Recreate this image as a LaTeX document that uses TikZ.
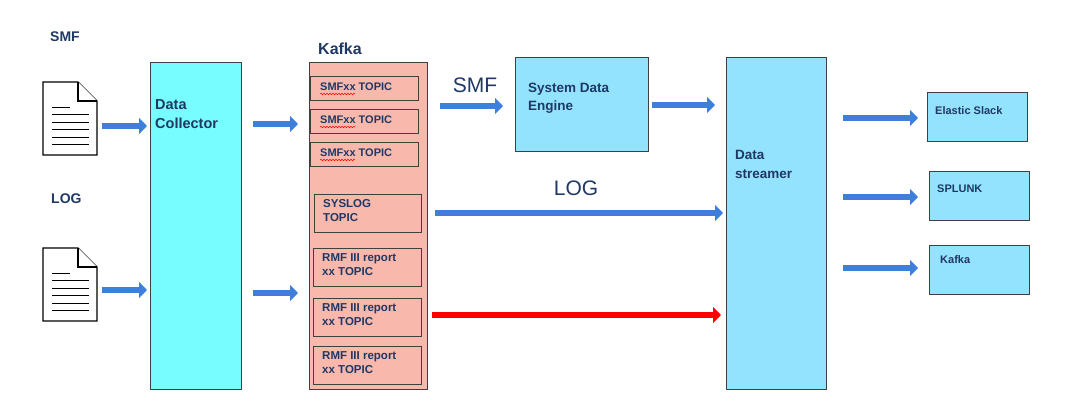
\documentclass[tikz,border=0pt]{standalone}
\usepackage{fontspec}
\setmainfont{Liberation Sans}
\usetikzlibrary{arrows.meta,decorations.pathmorphing}
\definecolor{navy}{HTML}{1F3864}
\definecolor{cyanb}{HTML}{77FCFF}
\definecolor{lblue}{HTML}{93E3FE}
\definecolor{salmon}{HTML}{F8B8AC}
\definecolor{arrb}{HTML}{3F7FDC}
\begin{document}
\begin{tikzpicture}[x=1pt,y=-1pt,
  box/.style={draw=black!75,line width=1pt,anchor=north west,inner sep=0pt},
  txt/.style={anchor=north west,text=navy,font=\bfseries,align=left,inner sep=0pt},
  fat/.style={draw=arrb,line width=6pt,-{Triangle[length=8pt,width=16pt]}},
  red/.style={fat,draw=red},
  doc/.style={draw=black,line width=1.2pt,fill=white}]
\useasboundingbox (0,0) rectangle (1080,406);
% labels
\node[txt,font=\bfseries\fontsize{14}{16}\selectfont] (lsmf) at (50,32) {SMF};
\node[txt,font=\bfseries\fontsize{14}{16}\selectfont] (llog) at (51,194) {LOG};
% documents
\foreach \y/\n in {82/d1,248/d2}{
  \draw[doc] (43,\y) -- (78,\y) -- (97,\y+19) -- (97,\y+73) -- (43,\y+73) -- cycle;
  \draw[doc] (78,\y) -- (78,\y+19) -- (97,\y+19);
  \draw[line width=0.9pt] (52,\y+25) -- (70,\y+25);
  \foreach \k in {1,...,5} \draw[line width=0.9pt] (52,\y+25+\k*7.5) -- (89,\y+25+\k*7.5);
  \coordinate (\n) at (97,\y+44);
}
% Data collector
\node[box,fill=cyanb,minimum width=91pt,minimum height=327pt] (dc) at (150,62) {};
\node[txt,font=\bfseries\fontsize{14.5}{19}\selectfont] (dct) at (155,99) {Data\\Collector};
\coordinate (a1s) at (102,126); \coordinate (a1e) at (147,126);
\coordinate (a2s) at (102,290); \coordinate (a2e) at (147,290);
\draw[fat] (a1s) -- (a1e);
\draw[fat] (a2s) -- (a2e);
\coordinate (b1s) at (253,124); \coordinate (b1e) at (298,124);
\coordinate (b2s) at (253,293); \coordinate (b2e) at (298,293);
\draw[fat] (b1s) -- (b1e);
\draw[fat] (b2s) -- (b2e);
% Kafka
\node[txt,font=\bfseries\fontsize{16}{18}\selectfont] (kt) at (318,43) {Kafka};
\node[box,fill=salmon,minimum width=118pt,minimum height=327pt] (kb) at (309,62) {};
\foreach \y/\n in {76/s1,109/s2,142/s3}{
  \node[box,minimum width=108pt,minimum height=24pt] (\n) at (310,\y) {};
  \node[txt,font=\bfseries\fontsize{11}{13}\selectfont] (\n t) at (320,\y+6.5) {SMFxx TOPIC};
  \draw[red,line width=0.5pt,-,decorate,decoration={snake,amplitude=0.7pt,segment length=3pt}] (320,\y+18) -- (355,\y+18);
}
\node[box,minimum width=107pt,minimum height=38pt] (sy) at (314,194) {};
\node[txt,font=\bfseries\fontsize{11.5}{14.5}\selectfont] (syt) at (323,199) {SYSLOG\\TOPIC};
\foreach \y/\n in {248/r1,298/r2,346/r3}{
  \node[box,minimum width=108pt,minimum height=38pt] (\n) at (313,\y) {};
  \node[txt,font=\bfseries\fontsize{11.5}{14.5}\selectfont] (\n t) at (322,\y+5) {RMF III report\\xx TOPIC};
}
% SMF arrow
\node[anchor=center,text=navy,font=\fontsize{21}{24}\selectfont,inner sep=0pt] (smfl) at (475,85) {SMF};
\coordinate (c1s) at (440,106); \coordinate (c1e) at (503,106);
\draw[fat] (c1s) -- (c1e);
\node[box,fill=lblue,minimum width=133pt,minimum height=94pt] (sde) at (515,57) {};
\node[txt,font=\bfseries\fontsize{13.5}{18}\selectfont] (sdet) at (528,83) {System Data\\Engine};
\coordinate (c2s) at (652,105); \coordinate (c2e) at (715,105);
\draw[fat] (c2s) -- (c2e);
% LOG
\node[anchor=center,text=navy,font=\fontsize{21}{24}\selectfont,inner sep=0pt] (logl) at (576,188) {LOG};
\coordinate (c3s) at (435,213); \coordinate (c3e) at (723,213);
\draw[fat] (c3s) -- (c3e);
\coordinate (c4s) at (432,315); \coordinate (c4e) at (721,315);
\draw[red] (c4s) -- (c4e);
% Data streamer
\node[box,fill=lblue,minimum width=100pt,minimum height=332pt] (ds) at (726,57) {};
\node[txt,font=\bfseries\fontsize{13.5}{19}\selectfont] (dst) at (735,150) {Data\\streamer};
% outputs
\foreach \y/\n/\x in {92/o1/927,171/o2/929,245/o3/929}{
  \node[box,fill=lblue,minimum width=100pt,minimum height=49pt] (\n) at (\x,\y) {};
}
\node[txt,font=\bfseries\fontsize{11}{13}\selectfont] (o1t) at (935,106) {Elastic Slack};
\node[txt,font=\bfseries\fontsize{11}{13}\selectfont] (o2t) at (937,185) {SPLUNK};
\node[txt,font=\bfseries\fontsize{11}{13}\selectfont] (o3t) at (940,255) {Kafka};
\coordinate (e1s) at (843,118); \coordinate (e1e) at (918,118);
\coordinate (e2s) at (843,197); \coordinate (e2e) at (918,197);
\coordinate (e3s) at (843,268); \coordinate (e3e) at (918,268);
\draw[fat] (e1s) -- (e1e);
\draw[fat] (e2s) -- (e2e);
\draw[fat] (e3s) -- (e3e);
\end{tikzpicture}
\end{document}
